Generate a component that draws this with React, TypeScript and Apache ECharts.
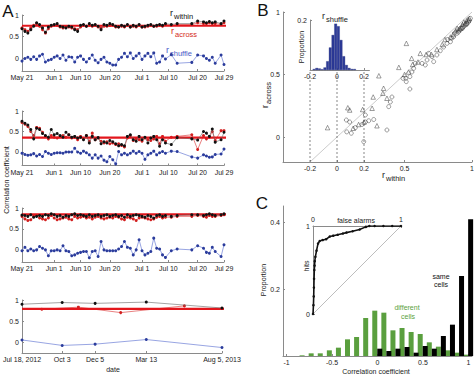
import React, { useEffect, useRef } from "react";
import * as echarts from "echarts";

const FONT = "'Liberation Sans', Arial, Helvetica, sans-serif";
const AXIS = "#8a8a8a";

// ---------- Panel A (days since May 21) ----------
const SESSION_DAY = [0,1,2,3,4,5,6,7,8,9,10,11,12,13,14,15,16,17,18,19,20,21,22,23,24,25,26,27,28,29,30,31,32,33,34,35,36,37,38,39,40,41,42,43,44,45,46,47,48,49,51,53,58,60,62,63,64,65,66,68,69];
const A_TICK_DAYS = [0, 11, 20, 30, 41, 50, 60, 69];
const A_TICK_LABELS = ["May 21", "Jun 1", "Jun 10", "Jun 20", "Jul 1", "Jul 10", "Jul 20", "Jul 29"];

const A1_WITHIN = [0.68,0.62,0.58,0.66,0.74,0.82,0.78,0.70,0.60,0.72,0.76,0.78,0.80,0.74,0.72,0.70,0.74,0.72,0.66,0.62,0.76,0.78,0.74,0.80,0.76,0.78,0.74,0.66,0.78,0.76,0.80,0.78,0.74,0.72,0.76,0.74,0.78,0.72,0.76,0.74,0.78,0.72,0.74,0.76,0.78,0.74,0.76,0.78,0.76,0.80,0.78,0.80,0.80,0.86,0.84,0.82,0.85,0.82,0.84,0.80,0.86];
const A1_ACROSS = [0.70,0.66,0.62,0.70,0.76,0.80,0.74,0.66,0.58,0.68,0.74,0.76,0.76,0.72,0.70,0.72,0.72,0.70,0.68,0.66,0.72,0.76,0.74,0.76,0.74,0.76,0.72,0.70,0.74,0.74,0.76,0.76,0.72,0.72,0.74,0.72,0.76,0.72,0.74,0.72,0.76,0.72,0.72,0.74,0.76,0.74,0.74,0.76,0.74,0.78,0.76,0.78,0.78,0.82,0.80,0.80,0.82,0.80,0.80,0.78,0.82];
const A1_SHUFFLE = [-0.07,-0.01,0.02,-0.03,0.03,-0.03,0.05,0.09,-0.09,-0.05,-0.03,0.02,0.05,-0.01,0.07,-0.05,0.03,0.02,-0.09,0.02,0.05,-0.03,-0.09,-0.01,0.07,-0.05,-0.11,-0.03,0.02,-0.09,-0.12,-0.16,-0.16,-0.03,0.02,0.11,0.03,0.12,-0.01,0.05,0.11,-0.03,0.05,0.11,0.03,0.12,-0.12,-0.09,0.05,-0.02,0.08,-0.12,-0.10,0.07,0.05,-0.01,-0.05,0.02,-0.12,0.07,-0.15];
const A1_MEAN_ACROSS = 0.75;

const A2_WITHIN = [0.75,0.70,0.66,0.55,0.32,0.58,0.55,0.45,0.40,0.36,0.55,0.42,0.45,0.40,0.36,0.48,0.42,0.36,0.38,0.34,0.36,0.30,0.40,0.22,0.38,0.30,0.35,0.20,0.25,0.22,0.28,0.25,0.20,0.15,0.18,0.15,0.38,0.42,0.30,0.26,0.38,0.30,0.36,0.22,0.34,0.38,0.30,0.14,0.30,0.22,0.18,0.35,0.32,0.29,0.50,0.46,0.38,0.56,0.24,0.30,0.48];
const A2_ACROSS = [0.72,0.68,0.62,0.50,0.40,0.60,0.58,0.48,0.38,0.32,0.40,0.36,0.34,0.38,0.40,0.36,0.42,0.34,0.36,0.30,0.38,0.32,0.40,0.26,0.46,0.30,0.34,0.26,0.22,0.25,0.20,0.22,0.18,0.20,0.16,0.12,0.34,0.40,0.28,0.32,0.30,0.26,0.34,0.30,0.28,0.32,0.38,0.20,0.38,0.26,0.36,0.38,0.42,0.06,0.40,0.32,0.36,0.50,0.28,0.52,0.52];
const A2_SHUFFLE = [-0.03,-0.06,-0.08,-0.07,-0.04,-0.10,-0.06,-0.11,0.01,-0.03,-0.06,-0.03,-0.02,-0.02,-0.03,0.00,0.00,0.00,0.09,0.00,-0.03,0.02,-0.02,-0.07,-0.15,-0.07,-0.15,-0.10,-0.20,-0.24,-0.11,-0.19,-0.29,0.01,-0.07,-0.03,-0.07,-0.03,0.02,-0.03,0.01,-0.03,-0.18,-0.07,-0.03,0.02,-0.07,-0.02,0.01,-0.03,0.02,0.01,-0.12,-0.15,-0.07,-0.10,-0.13,-0.12,-0.06,-0.05,0.07];
const A2_MEAN_ACROSS = 0.35;

const A3_WITHIN = [0.83,0.82,0.80,0.84,0.78,0.80,0.82,0.80,0.84,0.82,0.86,0.84,0.80,0.82,0.78,0.82,0.80,0.84,0.86,0.82,0.84,0.82,0.80,0.84,0.80,0.82,0.84,0.80,0.82,0.84,0.80,0.82,0.84,0.80,0.82,0.78,0.84,0.80,0.82,0.84,0.82,0.80,0.78,0.82,0.80,0.76,0.82,0.84,0.80,0.82,0.80,0.82,0.84,0.84,0.82,0.84,0.86,0.84,0.82,0.84,0.86];
const A3_ACROSS = [0.80,0.74,0.70,0.72,0.80,0.82,0.76,0.74,0.72,0.76,0.82,0.76,0.72,0.74,0.76,0.78,0.74,0.72,0.80,0.76,0.78,0.80,0.76,0.78,0.74,0.78,0.80,0.76,0.74,0.76,0.78,0.76,0.80,0.78,0.74,0.72,0.78,0.76,0.74,0.70,0.76,0.78,0.76,0.74,0.72,0.74,0.78,0.80,0.76,0.78,0.78,0.80,0.80,0.82,0.80,0.78,0.82,0.80,0.80,0.82,0.84];
const A3_SHUFFLE = [-0.02,0.06,-0.02,0.02,-0.02,0.00,0.08,0.04,0.00,-0.14,-0.02,-0.02,0.00,-0.02,0.10,-0.02,-0.04,-0.14,-0.12,-0.08,-0.06,-0.04,-0.04,-0.19,-0.04,-0.02,-0.16,0.20,0.00,-0.02,-0.02,-0.02,-0.02,0.02,0.08,0.20,0.06,0.04,-0.12,0.00,0.24,-0.02,-0.12,-0.08,-0.04,0.28,0.04,0.02,-0.12,-0.18,-0.02,0.02,0.00,0.10,0.04,-0.06,-0.08,0.06,-0.04,-0.16,0.12];
const A3_MEAN_ACROSS = 0.85;

const A4_SESSION_DATES = ["2012-07-18", "2012-10-03", "2012-12-05", "2013-03-13", "2013-08-05"];
const A4_WITHIN = [0.90, 0.94, 0.92, 0.95, 0.81];
const A4_SHUFFLE = [0.05, -0.08, -0.05, 0.06, -0.13];
const A4_ACROSS_DATES = ["2012-08-25", "2012-11-03", "2013-01-23", "2013-05-25"];
const A4_ACROSS = [0.78, 0.83, 0.70, 0.86];
const A4_MEAN_ACROSS = 0.79;
const A4_TICK_DATES = ["2012-07-18", "2012-10-03", "2012-12-05", "2013-03-13", "2013-08-05"];
const A4_TICK_LABELS = ["Jul 18, 2012", "Oct 3", "Dec 5", "Mar 13", "Aug 5, 2013"];

// ---------- Panel B ----------
const B_TRI_WITHIN = [-0.07,0.08,0.094,0.19,0.26,0.268,0.296,0.31,0.345,0.34,0.37,0.458,0.514,0.553,0.617,0.16,0.12,0.2,0.5,0.53,0.56,0.6,0.66,0.7,0.74,0.78,0.8,0.84,0.86,0.88,0.9,0.92,0.93,0.95,0.96,0.98,0.89,0.91,0.94,0.97];
const B_TRI_ACROSS = [0.075,0.234,0.216,0.22,0.23,0.32,0.09,0.49,0.39,0.35,0.31,0.557,0.749,0.629,0.669,0.1,0.07,0.12,0.5,0.52,0.58,0.6,0.66,0.66,0.7,0.74,0.78,0.8,0.82,0.85,0.86,0.88,0.9,0.91,0.93,0.95,0.87,0.87,0.92,0.94];
const B_CIRC_WITHIN = [0.069,0.094,0.072,0.106,0.136,0.185,0.21,0.235,0.272,0.21,0.198,0.37,0.383,0.407,0.395,0.54,0.489,0.513,0.54,0.51,0.555,0.568,0.58,0.63,0.654,0.667,0.704,0.716,0.74,0.679,0.765,0.79,0.815,0.84,0.864,0.82,0.85,0.87,0.889,0.9,0.914,0.925,0.938,0.95,0.963,0.975,0.988,0.96,0.93,0.98];
const B_CIRC_ACROSS = [0.136,0.12,0.041,0.03,0.075,0.1,0.12,0.13,0.14,0.176,-0.037,0.056,0.243,0.32,0.28,0.384,0.469,0.443,0.483,0.47,0.52,0.549,0.589,0.589,0.576,0.616,0.643,0.603,0.656,0.669,0.69,0.72,0.749,0.762,0.802,0.78,0.79,0.83,0.829,0.84,0.856,0.87,0.883,0.895,0.909,0.92,0.949,0.9,0.87,0.93];
const B_TICKS_X = [-0.2, 0, 0.2, 0.5, 1];
const B_TICKS_Y = [0, 0.5, 1];
const SHUFFLE_BIN = [-0.17,-0.15,-0.13,-0.11,-0.09,-0.07,-0.05,-0.03,-0.01,0.01,0.03,0.05,0.07,0.09,0.11,0.13];
const SHUFFLE_PROP = [0.004,0.008,0.006,0.003,0.01,0.035,0.09,0.14,0.185,0.175,0.12,0.055,0.02,0.008,0.004,0.004];

// ---------- Panel C ----------
const DIFF_BIN = [-0.8,-0.7,-0.6,-0.5,-0.4,-0.3,-0.2,-0.1,0,0.1,0.2,0.3,0.4,0.5,0.6,0.7,0.8,0.9,1.0];
const DIFF_PROP = [0.002,0.008,0.008,0.017,0.025,0.05,0.057,0.114,0.136,0.13,0.077,0.084,0.072,0.066,0.041,0.028,0.017,0.01,0.004];
const SAME_BIN = [0,0.1,0.2,0.3,0.4,0.5,0.6,0.7,0.8,0.9,1.0];
const SAME_PROP = [0.022,0.015,0.022,0.027,0.01,0.03,0.022,0.06,0.094,0.24,0.41];
const ROC_FA = [0,0.005,0.008,0.01,0.012,0.015,0.018,0.02,0.027,0.04,0.057,0.076,0.11,0.15,0.19,0.23,0.28,0.34,0.38,0.45,0.53,0.6,0.64,0.7,0.8,0.9,1];
const ROC_HITS = [0,0.1,0.2,0.3,0.4,0.5,0.55,0.6,0.65,0.72,0.8,0.83,0.84,0.85,0.88,0.89,0.9,0.915,0.925,0.94,0.96,0.99,1,1,1,1,1];

const zip = (xs: number[], ys: number[]) => xs.map((x, k) => [x, ys[k]]);
const dayOf = (d: string, ref: string) => (Date.parse(d) - Date.parse(ref)) / 86400000;

function valAxis(gridIndex: number, min: number, max: number, ticks: number[] | null, labels: string[] | null, extra: any = {}) {
  return {
    type: "value", gridIndex, min, max,
    axisLine: { show: true, onZero: false, lineStyle: { color: AXIS, width: 1 } },
    axisTick: { show: !!ticks, inside: true, length: 2, customValues: ticks || [], lineStyle: { color: AXIS } },
    axisLabel: {
      show: !!labels, customValues: ticks || [],
      formatter: (v: number) => (labels && ticks ? labels[ticks.indexOf(v)] ?? "" : ""),
      fontSize: 7, fontFamily: FONT, color: "#222", margin: 3,
    },
    splitLine: { show: false },
    ...extra,
  };
}

function T(x: number, y: number, text: string, o: any = {}) {
  return {
    type: "text", x, y, rotation: o.rot || 0, silent: true,
    style: {
      text, fontSize: o.size || 7, fontFamily: FONT, fill: o.color || "#222",
      textAlign: o.align || "center", textVerticalAlign: "middle",
    },
  };
}

function subLabel(x: number, y: number, sub: string, color: string, rot = 0) {
  return {
    type: "group", x, y, rotation: rot, silent: true,
    children: [
      { type: "text", x: 0, y: 0, style: { text: "r", fontSize: 9, fontFamily: FONT, fill: color, textAlign: "left", textVerticalAlign: "middle" } },
      { type: "text", x: 4, y: 3.5, style: { text: sub, fontSize: 7.5, fontFamily: FONT, fill: color, textAlign: "left", textVerticalAlign: "middle" } },
    ],
  };
}

function buildOption() {
  const grid: any[] = [];
  const xAxis: any[] = [];
  const yAxis: any[] = [];
  const series: any[] = [];

  const aLayout = [
    { top: 15, height: 56, min: -0.3, width: 202 },
    { top: 111, height: 54.5, min: -0.33, width: 202 },
    { top: 208, height: 54, min: -0.29, width: 202 },
    { top: 300, height: 53, min: -0.26, width: 200 },
  ];
  const a4Ref = A4_SESSION_DATES[0];
  const aData = [
    { days: SESSION_DAY, acrossDays: SESSION_DAY, w: A1_WITHIN, a: A1_ACROSS, s: A1_SHUFFLE, m: A1_MEAN_ACROSS, max: 69, ticks: A_TICK_DAYS, labels: A_TICK_LABELS },
    { days: SESSION_DAY, acrossDays: SESSION_DAY, w: A2_WITHIN, a: A2_ACROSS, s: A2_SHUFFLE, m: A2_MEAN_ACROSS, max: 69, ticks: A_TICK_DAYS, labels: A_TICK_LABELS },
    { days: SESSION_DAY, acrossDays: SESSION_DAY, w: A3_WITHIN, a: A3_ACROSS, s: A3_SHUFFLE, m: A3_MEAN_ACROSS, max: 69, ticks: A_TICK_DAYS, labels: A_TICK_LABELS },
    {
      days: A4_SESSION_DATES.map((d) => dayOf(d, a4Ref)), acrossDays: A4_ACROSS_DATES.map((d) => dayOf(d, a4Ref)),
      w: A4_WITHIN, a: A4_ACROSS, s: A4_SHUFFLE, m: A4_MEAN_ACROSS,
      max: dayOf(A4_SESSION_DATES[4], a4Ref), ticks: A4_TICK_DATES.map((d) => dayOf(d, a4Ref)), labels: A4_TICK_LABELS,
    },
  ];

  aData.forEach((p, i) => {
    const L = aLayout[i];
    grid.push({ left: 22, top: L.top, width: L.width, height: L.height, outerBoundsMode: "none" });
    xAxis.push(valAxis(i, 0, p.max, p.ticks, p.labels));
    yAxis.push(valAxis(i, L.min, 1, [0, 0.5, 1], ["0", "0.5", "1"]));
    const refEnd = p.max * (217 / L.width);
    series.push(
      { type: "line", xAxisIndex: i, yAxisIndex: i, data: zip(p.days, p.s), symbol: "circle", symbolSize: 3, itemStyle: { color: "#2b3c9c" }, lineStyle: { color: "#6c7ed6", width: 0.7 }, z: 2 },
      { type: "line", xAxisIndex: i, yAxisIndex: i, data: zip(p.acrossDays, p.a), symbol: "circle", symbolSize: 3, itemStyle: { color: "#d21f1f" }, lineStyle: { color: "#e04a4a", width: 0.7 }, z: 3 },
      { type: "line", xAxisIndex: i, yAxisIndex: i, data: [[0, p.m], [refEnd, p.m]], symbol: "none", clip: false, lineStyle: { color: "#e3161c", width: 2.2 }, z: 4 },
      { type: "line", xAxisIndex: i, yAxisIndex: i, data: zip(p.days, p.w), symbol: "circle", symbolSize: 3, itemStyle: { color: "#111" }, lineStyle: { color: "#666", width: 0.6 }, z: 5 },
    );
  });

  // Panel B main (index 4)
  grid.push({ left: 283, top: 12, width: 189, height: 150, outerBoundsMode: "none" });
  xAxis.push(valAxis(4, -0.4, 1, B_TICKS_X, B_TICKS_X.map(String)));
  yAxis.push(valAxis(4, -0.2, 1, B_TICKS_Y, B_TICKS_Y.map(String)));
  series.push(
    { type: "line", xAxisIndex: 4, yAxisIndex: 4, data: [[-0.2, -0.2], [1, 1]], symbol: "none", lineStyle: { color: "#c4c4c4", width: 0.9 }, z: 1 },
    ...[-0.2, 0, 0.2].map((v) => ({ type: "line", xAxisIndex: 4, yAxisIndex: 4, data: [[v, -0.2], [v, 0.536]], symbol: "none", lineStyle: { color: "#555", width: 0.7, type: [2, 2] }, z: 1 })),
    { type: "scatter", xAxisIndex: 4, yAxisIndex: 4, data: zip(B_TRI_WITHIN, B_TRI_ACROSS), symbol: "triangle", symbolSize: 4.5, itemStyle: { color: "rgba(255,255,255,0)", borderColor: "#333", borderWidth: 0.6 }, z: 3 },
    { type: "scatter", xAxisIndex: 4, yAxisIndex: 4, data: zip(B_CIRC_WITHIN, B_CIRC_ACROSS), symbol: "circle", symbolSize: 4, itemStyle: { color: "rgba(255,255,255,0)", borderColor: "#333", borderWidth: 0.6 }, z: 3 },
  );

  // Panel B inset (index 5)
  grid.push({ left: 310, top: 20, width: 59.4, height: 50, outerBoundsMode: "none" });
  xAxis.push(valAxis(5, -0.2, 0.24, [-0.2, 0, 0.2], ["-0.2", "0", "0.2"]));
  yAxis.push(valAxis(5, 0, 0.2, [0, 0.2], ["", "0.2"]));
  series.push({ type: "bar", xAxisIndex: 5, yAxisIndex: 5, data: zip(SHUFFLE_BIN, SHUFFLE_PROP), barWidth: 2.7, itemStyle: { color: "#2d3b98", borderColor: "#1b2475", borderWidth: 0.3 } });

  // Panel C main (index 6)
  grid.push({ left: 283, top: 206, width: 189, height: 150, outerBoundsMode: "none" });
  xAxis.push(valAxis(6, -1.04, 1.04, [-1, -0.5, 0, 0.5, 1], ["-1", "-0.5", "0", "0.5", "1"]));
  yAxis.push(valAxis(6, 0, 0.45, [0, 0.2, 0.4], ["", "0.2", "0.4"]));
  series.push(
    { type: "bar", xAxisIndex: 6, yAxisIndex: 6, data: DIFF_BIN.map((c, k) => [c - 0.03, DIFF_PROP[k]]), barWidth: 5, barGap: "-100%", itemStyle: { color: "#5a9f3e" } },
    { type: "bar", xAxisIndex: 6, yAxisIndex: 6, data: SAME_BIN.map((c, k) => [c + 0.025, SAME_PROP[k]]), barWidth: 5, barGap: "-100%", itemStyle: { color: "#000" } },
  );

  // Panel C ROC inset (index 7)
  grid.push({ left: 313, top: 226, width: 88, height: 88, outerBoundsMode: "none" });
  xAxis.push(valAxis(7, 0, 1, [0, 1], ["0", "1"], { position: "top" }));
  yAxis.push(valAxis(7, 0, 1, [0, 1], ["0", "1"]));
  series.push(
    { type: "line", xAxisIndex: 7, yAxisIndex: 7, data: [[0, 0], [1, 1]], symbol: "none", lineStyle: { color: "#b5b5b5", width: 0.9 } },
    { type: "line", xAxisIndex: 7, yAxisIndex: 7, data: zip(ROC_FA, ROC_HITS), symbol: "circle", symbolSize: 2.5, itemStyle: { color: "#111" }, lineStyle: { color: "#111", width: 1.6 } },
  );

  const graphic = [
    T(8, 11, "A", { size: 17, color: "#111" }),
    T(263, 10, "B", { size: 17, color: "#111" }),
    T(262, 203, "C", { size: 17, color: "#111" }),
    subLabel(170, 13, "within", "#111"),
    subLabel(171, 31, "across", "#d42a20"),
    subLabel(166, 50, "shuffle", "#4a5cc8"),
    T(6, 180, "Correlation coefficient", { rot: Math.PI / 2 }),
    T(113, 369, "date"),
    subLabel(265, 108, "across", "#222", Math.PI / 2),
    subLabel(382, 175, "within", "#222"),
    subLabel(322, 16, "shuffle", "#222"),
    T(301, 47, "Proportion", { rot: Math.PI / 2 }),
    T(263, 280, "Proportion", { rot: Math.PI / 2 }),
    T(376, 371, "Correlation coefficient"),
    T(306, 266, "hits", { rot: Math.PI / 2 }),
    T(356, 220, "false alarms"),
    T(441, 276, "same", { color: "#111" }),
    T(441, 284, "cells", { color: "#111" }),
    T(407, 307.5, "different", { color: "#5a9f3e" }),
    T(408, 316, "cells", { color: "#5a9f3e" }),
  ];

  return { animation: false, backgroundColor: "#fff", grid, xAxis, yAxis, series, graphic, textStyle: { fontFamily: FONT } };
}

export default function App() {
  const ref = useRef<HTMLDivElement>(null);
  useEffect(() => {
    const chart = echarts.init(ref.current!, null, { renderer: "svg" });
    chart.setOption(buildOption() as any);
    return () => chart.dispose();
  }, []);
  return <div ref={ref} style={{ position: "fixed", left: 0, top: 0, width: 474, height: 375, background: "#fff" }} />;
}
